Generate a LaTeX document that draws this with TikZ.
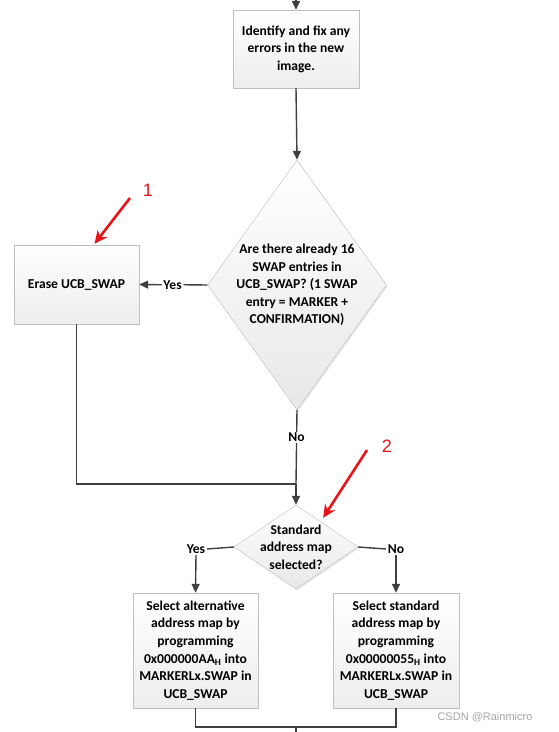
\documentclass[tikz,border=0pt]{standalone}
\usepackage{fontspec}
\setmainfont{Carlito}
\newfontfamily\notefont{Liberation Sans}
\usepackage{tikz}
\usetikzlibrary{calc,shapes.geometric,arrows.meta,shadows}
\definecolor{flowgray}{HTML}{3F3F3F}
\definecolor{boxedge}{HTML}{BFBFBF}
\definecolor{markred}{HTML}{E8141C}
\newcommand\boxfont{\bfseries\fontsize{13.6}{17.6}\selectfont}
\tikzset{
  procbox/.style={draw=boxedge, top color=white, bottom color=gray!14,
    drop shadow={opacity=0.25, shadow xshift=1.2pt, shadow yshift=-1.2pt},
    align=center, inner sep=0pt, font=\boxfont},
  decide/.style={diamond, draw=boxedge, top color=white, bottom color=gray!18,
    drop shadow={opacity=0.2, shadow xshift=1.2pt, shadow yshift=-1.2pt},
    inner sep=0pt},
  decidetext/.style={align=center, inner sep=0pt, font=\boxfont},
  flowline/.style={draw=flowgray, line width=1.4pt},
  flow/.style={flowline, -{Triangle[length=9pt,width=8pt]}},
  answer/.style={fill=white, inner sep=1.5pt, font=\boxfont},
  markarrow/.style={draw=markred, line width=2.6pt, -{Stealth[length=13pt,width=12pt]}},
  marknum/.style={text=markred, font=\notefont\fontsize{18}{20}\selectfont}
}

\begin{document}
\begin{tikzpicture}[x=1pt,y=-1pt]
  \useasboundingbox (0,0) rectangle (559,732);

  %% Boxes and decisions
  \node[procbox, minimum width=126pt, minimum height=78pt] (IDENTIFY) at (296,49)
    {Identify and fix any\\ errors in the new\\ image.};
  \node[decide, minimum width=179pt, minimum height=250pt] (CHECK16) at (297,285) {};
  \node[decidetext] (CHECK16TXT) at (CHECK16)
    {Are there already 16\\ SWAP entries in\\ UCB\_SWAP? (1 SWAP\\ entry = MARKER +\\ CONFIRMATION)};
  \node[procbox, minimum width=125pt, minimum height=79pt] (ERASE) at (76.5,284.5)
    {Erase UCB\_SWAP};
  \node[decide, minimum width=124pt, minimum height=84pt] (STDMAP) at (296,547) {};
  \node[decidetext] (STDMAPTXT) at (STDMAP)
    {Standard\\ address map\\ selected?};
  \node[procbox, minimum width=125pt, minimum height=115pt] (SELALT) at (195.5,650.5)
    {Select alternative\\ address map by\\ programming\\ 0x000000AA\textsubscript{H} into\\ MARKERLx.SWAP in\\ UCB\_SWAP};
  \node[procbox, minimum width=126pt, minimum height=115pt] (SELSTD) at (396,650.5)
    {Select standard\\ address map by\\ programming\\ 0x00000055\textsubscript{H} into\\ MARKERLx.SWAP in\\ UCB\_SWAP};

  %% Connectors
  \coordinate (TOPIN) at (296,0);
  \draw[flow] (TOPIN) -- (IDENTIFY.north);
  \draw[flow] (IDENTIFY.south) -- (CHECK16.north);
  \node[answer] (YESERASE) at ($(CHECK16.west)!0.51!(ERASE.east)$) {Yes};
  \draw[flowline] (CHECK16.west) -- (YESERASE.east);
  \draw[flow] (YESERASE.west) -- (ERASE.east);
  \coordinate (JOIN) at (296,484);
  \draw[flowline] (CHECK16.south) -- node[answer, pos=0.37] (NOCHECK) {No} (JOIN);
  \draw[flowline] (ERASE.south) |- (JOIN);
  \draw[flow] (JOIN) -- (STDMAP.north);

  \node[answer, fill=none] (YESALT) at (196,549) {Yes};
  \node[answer, fill=none] (NOSTD) at (396,549) {No};
  \draw[flowline] (STDMAP.west) -- (YESALT.east);
  \draw[flowline] (STDMAP.east) -- (NOSTD.west);
  \draw[flow] (YESALT.south) -- (SELALT.north);
  \draw[flow] (NOSTD.south) -- (SELSTD.north);

  \coordinate (BOTJOIN) at (296,727);
  \coordinate (BOTOUT) at (296,732);
  \draw[flowline] (SELALT.south) |- (BOTJOIN) -| (SELSTD.south);
  \draw[flowline] (BOTJOIN) -- (BOTOUT);

  %% Red markers
  \coordinate (MARKTAIL1) at (130,198);
  \draw[markarrow] (MARKTAIL1) -- ($(ERASE.north)+(18,-1)$);
  \node[marknum] (MARKNUM1) at (148,190) {1};
  \coordinate (MARKTAIL2) at (367,450);
  \draw[markarrow] (MARKTAIL2) -- ($(STDMAP.north east)+(-4,-8)$);
  \node[marknum] (MARKNUM2) at (387,446) {2};

  %% Watermark
  \node[text=gray!70, font=\notefont\fontsize{11}{12}\selectfont] (WMARK) at (485,717) {CSDN @Rainmicro};
\end{tikzpicture}
\end{document}
